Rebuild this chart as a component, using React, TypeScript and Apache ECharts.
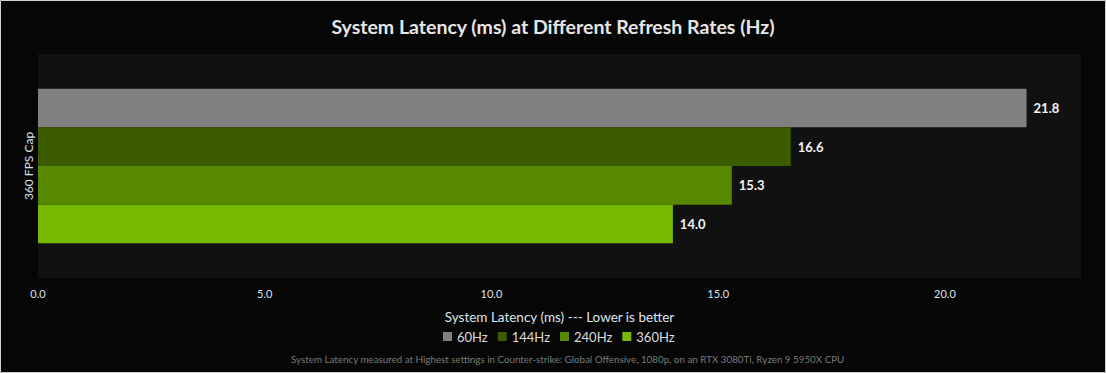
import React, { useEffect, useRef } from "react";
import * as echarts from "echarts";

const categories = ["360 FPS Cap"];
const seriesNames = ["60Hz", "144Hz", "240Hz", "360Hz"];
const latency60 = [21.8];
const latency144 = [16.6];
const latency240 = [15.3];
const latency360 = [14.0];
const seriesColors = ["#808080", "#3c5c00", "#578900", "#76b900"];
const xTicks = [0, 5, 10, 15, 20];

const FONT = "Lato, 'Open Sans', sans-serif";

export default function App() {
  const ref = useRef<HTMLDivElement>(null);
  useEffect(() => {
    document.body.style.margin = "0";
    const chart = echarts.init(ref.current!, null, { renderer: "svg" });
    const values = [latency60, latency144, latency240, latency360];
    chart.setOption({
      animation: false,
      backgroundColor: "#060606",
      textStyle: { fontFamily: FONT },
      title: {
        text: "System Latency (ms) at Different Refresh Rates (Hz)",
        left: "center",
        top: 11,
        textStyle: { color: "#e6e6e6", fontSize: 19.5, fontWeight: "bold", fontFamily: FONT },
      },
      grid: {
        left: 38,
        right: 25,
        top: 54,
        bottom: 95,
        show: true,
        backgroundColor: "#111111",
        borderWidth: 0,
      },
      legend: {
        data: seriesNames,
        top: 325,
        left: 438,
        icon: "rect",
        itemWidth: 9,
        itemHeight: 9,
        itemGap: 10,
        itemStyle: { borderWidth: 0 },
        textStyle: { color: "#dddddd", fontSize: 13, fontFamily: FONT },
      },
      xAxis: {
        type: "value",
        min: 0,
        max: 23,
        interval: 5,
        axisLine: { show: false },
        axisTick: { show: false },
        splitLine: { show: false },
        axisLabel: {
          color: "#d8e4f0",
          fontSize: 11,
          margin: 10,
          formatter: (v: number) => (xTicks.includes(v) ? v.toFixed(1) : ""),
        },
        name: "System Latency (ms) --- Lower is better",
        nameLocation: "middle",
        nameGap: 32,
        nameTextStyle: { color: "#dde6ee", fontSize: 13.5, fontFamily: FONT },
      },
      yAxis: {
        type: "category",
        data: categories,
        inverse: true,
        axisLine: { show: false },
        axisTick: { show: false },
        axisLabel: { rotate: 90, color: "#d8e4f0", fontSize: 12, margin: 4 },
      },
      series: seriesNames.map((name, i) => ({
        name,
        type: "bar",
        data: values[i],
        barGap: "0%",
        barCategoryGap: "31%",
        itemStyle: { color: seriesColors[i] },
        label: {
          show: true,
          position: "right",
          distance: 7,
          color: "#f4f4f4",
          fontSize: 13,
          fontWeight: "bold",
          fontFamily: FONT,
          formatter: (p: any) => Number(p.value).toFixed(1),
        },
      })),
      graphic: [
        {
          type: "text",
          left: 291,
          top: 354,
          style: {
            text: "System Latency measured at Highest settings in Counter-strike: Global Offensive, 1080p, on an RTX 3080Ti, Ryzen 9 5950X CPU",
            fill: "#7a7a7a",
            fontSize: 9.8,
            fontFamily: FONT,
          },
        },
        {
          type: "rect",
          shape: { x: 0.5, y: 0.5, width: 1105, height: 372 },
          style: { fill: "none", stroke: "#d0d0d0", lineWidth: 1 },
          silent: true,
        },
      ],
    });
    return () => chart.dispose();
  }, []);
  return <div ref={ref} style={{ width: 1106, height: 373, position: "absolute", left: 0, top: 0 }} />;
}
